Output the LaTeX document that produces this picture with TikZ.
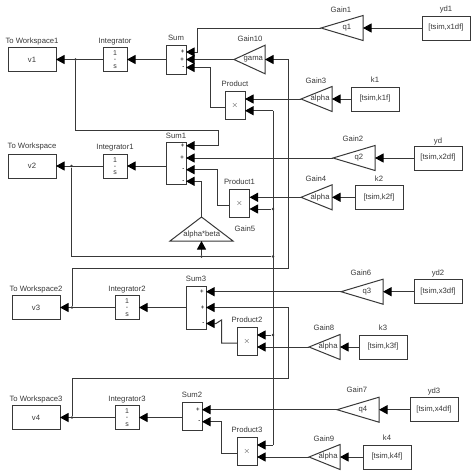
\documentclass[tikz,border=0pt]{standalone}
\usepackage{fontspec}
\setmainfont{Liberation Sans}
\usetikzlibrary{arrows.meta,positioning,shapes.geometric}
\definecolor{wire}{gray}{0.22}

\begin{document}
\begin{tikzpicture}[
        x=1pt, y=-1pt,
        font=\fontsize{7.7}{6}\selectfont,
        text=wire,
        block/.style={rectangle, draw=wire, line width=1pt, fill=white, minimum width=48pt, minimum height=24pt, inner sep=0pt, outer sep=0pt, align=center},
        integ/.style={block, minimum width=24pt, font=\fontsize{7}{6.3}\selectfont},
        sumblock/.style={block, minimum width=20pt},
        prod/.style={block, minimum width=20pt, minimum height=28pt},
        gainq/.style={isosceles triangle, isosceles triangle stretches, shape border rotate=180, draw=wire, line width=1pt, inner sep=0pt, outer sep=0pt, minimum height=42pt, minimum width=25pt, anchor=apex},
        gaina/.style={gainq, minimum height=31pt},
        gaintxt/.style={inner sep=0pt, anchor=west},
        lbl/.style={inner sep=0pt, text height=5.6pt, text depth=1.6pt},
        sign/.style={inner sep=0pt, font=\fontsize{6}{6}\selectfont\bfseries},
        dot/.style={circle, fill=wire, inner sep=0pt, minimum size=2.8pt},
        line/.style={draw=wire, line width=1pt},
        sig/.style={line, -{Triangle[length=8.5pt,width=9pt,color=black]}}
    ]
        \useasboundingbox (0,0) rectangle (474,474);

        % outputs
        \node[block] (vOne) at (32,59.5) {v1};
        \node[block] (vTwo) at (32,166) {v2};
        \node[block] (vThree) at (36,307.5) {v3};
        \node[block] (vFour) at (36,417.5) {v4};
        \node[lbl, above=2.5pt of vOne] (vOneLbl) {To Workspace1};
        \node[lbl, above=4pt of vTwo] (vTwoLbl) {To Workspace};
        \node[lbl, above=2.5pt of vThree] (vThreeLbl) {To Workspace2};
        \node[lbl, above=2.5pt of vFour] (vFourLbl) {To Workspace3};

        % integrators
        \node[integ] (intOne) at (115,59.5) {1\\-\\s};
        \node[integ] (intTwo) at (115,166) {1\\-\\s};
        \node[integ] (intThree) at (127,307.5) {1\\-\\s};
        \node[integ] (intFour) at (127,417.5) {1\\-\\s};
        \node[lbl, above=2.5pt of intOne] (intOneLbl) {Integrator};
        \node[lbl, above=2.5pt of intTwo] (intTwoLbl) {Integrator1};
        \node[lbl, above=2.5pt of intThree] (intThreeLbl) {Integrator2};
        \node[lbl, above=2.5pt of intFour] (intFourLbl) {Integrator3};

        % sums
        \node[sumblock, minimum height=29pt] (sumOne) at (176,59.5) {};
        \node[sumblock, minimum height=41.5pt] (sumTwo) at (176,163.7) {};
        \node[sumblock, minimum height=43pt] (sumThree) at (196,307.5) {};
        \node[sumblock, minimum height=28pt] (sumFour) at (192,416) {};
        \node[lbl, above=2.5pt of sumOne] (sumOneLbl) {Sum};
        \node[lbl, above=2.5pt of sumTwo] (sumTwoLbl) {Sum1};
        \node[lbl, above=2.5pt of sumThree] (sumThreeLbl) {Sum3};
        \node[lbl, above=2.5pt of sumFour] (sumFourLbl) {Sum2};
        \coordinate (sumOneA) at (186,52);
        \coordinate (sumOneC) at (186,67.5);
        \coordinate (sumTwoA) at (186,145.7);
        \coordinate (sumTwoC) at (186,169.7);
        \coordinate (sumTwoD) at (186,181.3);
        \coordinate (sumThreeB) at (206,307.5);
        \coordinate (sumThreeC) at (206,323.5);
        \coordinate (sumFourB) at (202,421.7);
        \node[sign, left=1.5pt of sumOneA] (signOneA) {+};
        \node[sign] (signOneB) at (182,59.5) {+};
        \node[sign, left=1.5pt of sumOneC] (signOneC) {-};
        \node[sign, left=1.5pt of sumTwoA] (signTwoA) {+};
        \node[sign] (signTwoB) at (182,158) {+};
        \node[sign, left=1.5pt of sumTwoC] (signTwoC) {-};
        \node[sign, left=1.5pt of sumTwoD] (signTwoD) {-};
        \node[sign] (signThreeA) at (202,291.7) {+};
        \node[sign, left=1.5pt of sumThreeB] (signThreeB) {+};
        \node[sign, left=1.5pt of sumThreeC] (signThreeC) {-};
        \node[sign] (signFourA) at (198,409.7) {+};
        \node[sign, left=1.5pt of sumFourB] (signFourB) {-};

        % products
        \node[prod] (prodOne) at (235,105) {$\times$};
        \node[prod] (prodTwo) at (239.5,203) {$\times$};
        \node[prod] (prodThree) at (247,341) {$\times$};
        \node[prod] (prodFour) at (247,451) {$\times$};
        \node[lbl, above=2.5pt of prodOne] (prodOneLbl) {Product};
        \node[lbl, above=2.5pt of prodTwo] (prodTwoLbl) {Product1};
        \node[lbl, above=2.5pt of prodThree] (prodThreeLbl) {Product2};
        \node[lbl, above=2.5pt of prodFour] (prodFourLbl) {Product3};

        % gains
        \node[gainq] (gainOne) at (321,28) {};
        \node[gainq] (gainTwo) at (333,158) {};
        \node[gainq] (gainSix) at (341,291.7) {};
        \node[gainq] (gainSeven) at (337,409.7) {};
        \node[gaina] (gainThree) at (301,99) {};
        \node[gaina] (gainFour) at (301,197.3) {};
        \node[gaina] (gainEight) at (309,347) {};
        \node[gaina] (gainNine) at (309,457) {};
        \node[gaina, minimum width=28.5pt] (gainTen) at (234,59.5) {};
        \node[isosceles triangle, isosceles triangle stretches, shape border rotate=90, draw=wire, line width=1pt, inner sep=0pt, outer sep=0pt, minimum height=24pt, minimum width=63pt, anchor=apex] (gainFive) at (201.5,217) {};
        \node[gaintxt, right=21.5pt of gainOne.apex] (gainOneTxt) {q1};
        \node[gaintxt, right=21.5pt of gainTwo.apex] (gainTwoTxt) {q2};
        \node[gaintxt, right=21.5pt of gainSix.apex] (gainSixTxt) {q3};
        \node[gaintxt, right=21.5pt of gainSeven.apex] (gainSevenTxt) {q4};
        \node[gaintxt, right=9.5pt of gainThree.apex] (gainThreeTxt) {alpha};
        \node[gaintxt, right=9.5pt of gainFour.apex] (gainFourTxt) {alpha};
        \node[gaintxt, right=9.5pt of gainEight.apex] (gainEightTxt) {alpha};
        \node[gaintxt, right=9.5pt of gainNine.apex] (gainNineTxt) {alpha};
        \node[gaintxt, right=9.5pt of gainTen.apex] (gainTenTxt) {gama};
        \node[inner sep=0pt] (gainFiveTxt) at (201.7,235) {alpha*beta};
        \node[lbl] (gainOneLbl) at (341,10) {Gain1};
        \node[lbl] (gainTwoLbl) at (353,139) {Gain2};
        \node[lbl] (gainThreeLbl) at (316,81) {Gain3};
        \node[lbl] (gainFourLbl) at (316,179) {Gain4};
        \node[lbl] (gainFiveLbl) at (245,229) {Gain5};
        \node[lbl] (gainSixLbl) at (361,273) {Gain6};
        \node[lbl] (gainSevenLbl) at (357,390) {Gain7};
        \node[lbl] (gainEightLbl) at (324,328.5) {Gain8};
        \node[lbl] (gainNineLbl) at (324,439) {Gain9};
        \node[lbl] (gainTenLbl) at (250,39.5) {Gain10};

        % sources
        \node[block] (ydOne) at (446,28) {[tsim,x1df]};
        \node[block] (ydTwo) at (438,158) {[tsim,x2df]};
        \node[block] (ydThree) at (438,291.7) {[tsim,x3df]};
        \node[block] (ydFour) at (434,409.7) {[tsim,x4df]};
        \node[block] (kOne) at (375,99) {[tsim,k1f]};
        \node[block] (kTwo) at (379,197.3) {[tsim,k2f]};
        \node[block] (kThree) at (383,347) {[tsim,k3f]};
        \node[block] (kFour) at (387,457) {[tsim,k4f]};
        \node[lbl, above=2.5pt of ydOne] (ydOneLbl) {yd1};
        \node[lbl, above=1pt of ydTwo] (ydTwoLbl) {yd};
        \node[lbl, above=2.5pt of ydThree] (ydThreeLbl) {yd2};
        \node[lbl, above=2.5pt of ydFour] (ydFourLbl) {yd3};
        \node[lbl, above=2.5pt of kOne] (kOneLbl) {k1};
        \node[lbl, above=2.5pt of kTwo] (kTwoLbl) {k2};
        \node[lbl, above=2.5pt of kThree] (kThreeLbl) {k3};
        \node[lbl, above=2.5pt of kFour] (kFourLbl) {k4};

        % junctions
        \node[dot] (jvOne) at (75.5,59.5) {};
        \node[dot] (jvTwo) at (71.5,166) {};
        \node[dot] (jvThree) at (72,307.5) {};
        \node[dot] (jvFour) at (72,417.5) {};
        \node[dot] (jBus) at (273,256.5) {};
        \node[dot] (jBeta) at (201.5,256.5) {};
        \node[dot] (jProdTwo) at (273,209) {};
        \node[dot] (jProdThree) at (273,335) {};

        \coordinate (busTop) at (273,110.7);
        \coordinate (busEnd) at (273,445);
        \coordinate (fbTwo) at (218,130.5);
        \coordinate (fbThree) at (288.5,268);
        \coordinate (fbFour) at (288.5,378);
        \coordinate (prodOneOut) at (210,107);
        \coordinate (prodTwoOut) at (217.7,205.7);
        \coordinate (prodThreeOut) at (221.5,343);
        \coordinate (prodFourOut) at (221.5,453);
        \coordinate (kink) at (216,323.5);

        % forward paths
        \draw[sig] (sumOne) -- (intOne);
        \draw[sig] (sumTwo.west |- intTwo) -- (intTwo);
        \draw[sig] (sumThree) -- (intThree);
        \draw[sig] (sumFour.west |- intFour) -- (intFour);
        \draw[sig] (intOne) -- (vOne);
        \draw[sig] (intTwo) -- (vTwo);
        \draw[sig] (intThree) -- (vThree);
        \draw[sig] (intFour) -- (vFour);

        % gains to sums and products
        \draw[sig] (ydOne) -- (gainOne);
        \draw[sig] (ydTwo) -- (gainTwo);
        \draw[sig] (ydThree) -- (gainSix);
        \draw[sig] (ydFour) -- (gainSeven);
        \draw[sig] (kOne) -- (gainThree);
        \draw[sig] (kTwo) -- (gainFour);
        \draw[sig] (kThree) -- (gainEight);
        \draw[sig] (kFour) -- (gainNine);
        \draw[sig] (gainOne.apex) -| (197.5,40) |- (sumOneA);
        \draw[sig] (gainTen.apex) -- (sumOne.east |- gainTen.apex);
        \draw[sig] (gainTwo.apex) -- (sumTwo.east |- gainTwo.apex);
        \draw[sig] (gainSix.apex) -- (sumThree.east |- gainSix.apex);
        \draw[sig] (gainSeven.apex) -- (sumFour.east |- gainSeven.apex);
        \draw[sig] (gainThree.apex) -- (prodOne.east |- gainThree.apex);
        \draw[sig] (gainFour.apex) -- (prodTwo.east |- gainFour.apex);
        \draw[sig] (gainEight.apex) -- (prodThree.east |- gainEight.apex);
        \draw[sig] (gainNine.apex) -- (prodFour.east |- gainNine.apex);

        % product outputs
        \draw[sig] (prodOne.west |- prodOneOut) -- (prodOneOut) |- (sumOneC);
        \draw[sig] (prodTwo.west |- prodTwoOut) -- (prodTwoOut) |- (sumTwoC);
        \draw[sig] (prodThree.west |- prodThreeOut) -- (prodThreeOut) -- (221.5,320) -- (kink) -- (sumThreeC);
        \draw[sig] (prodFour.west |- prodFourOut) -- (prodFourOut) |- (sumFourB);

        % feedback
        \draw[sig] (jvOne) |- (fbTwo) |- (sumTwoA);
        \draw[sig] (jvThree) |- (fbThree) |- (gainTen);
        \draw[sig] (jvFour) |- (fbFour) |- (sumThreeB);
        \draw[line] (jvTwo) |- (jBus);
        \draw[sig] (busTop) -- (prodOne.east |- busTop);
        \draw[line] (busTop) -- (busEnd);
        \draw[sig] (busEnd) -- (prodFour.east |- busEnd);
        \draw[sig] (jProdTwo) -- (prodTwo.east |- jProdTwo);
        \draw[sig] (jProdThree) -- (prodThree.east |- jProdThree);
        \draw[sig] (jBeta) -- (gainFive);
        \draw[sig] (gainFive.apex) |- (sumTwoD);
    \end{tikzpicture}
\end{document}
